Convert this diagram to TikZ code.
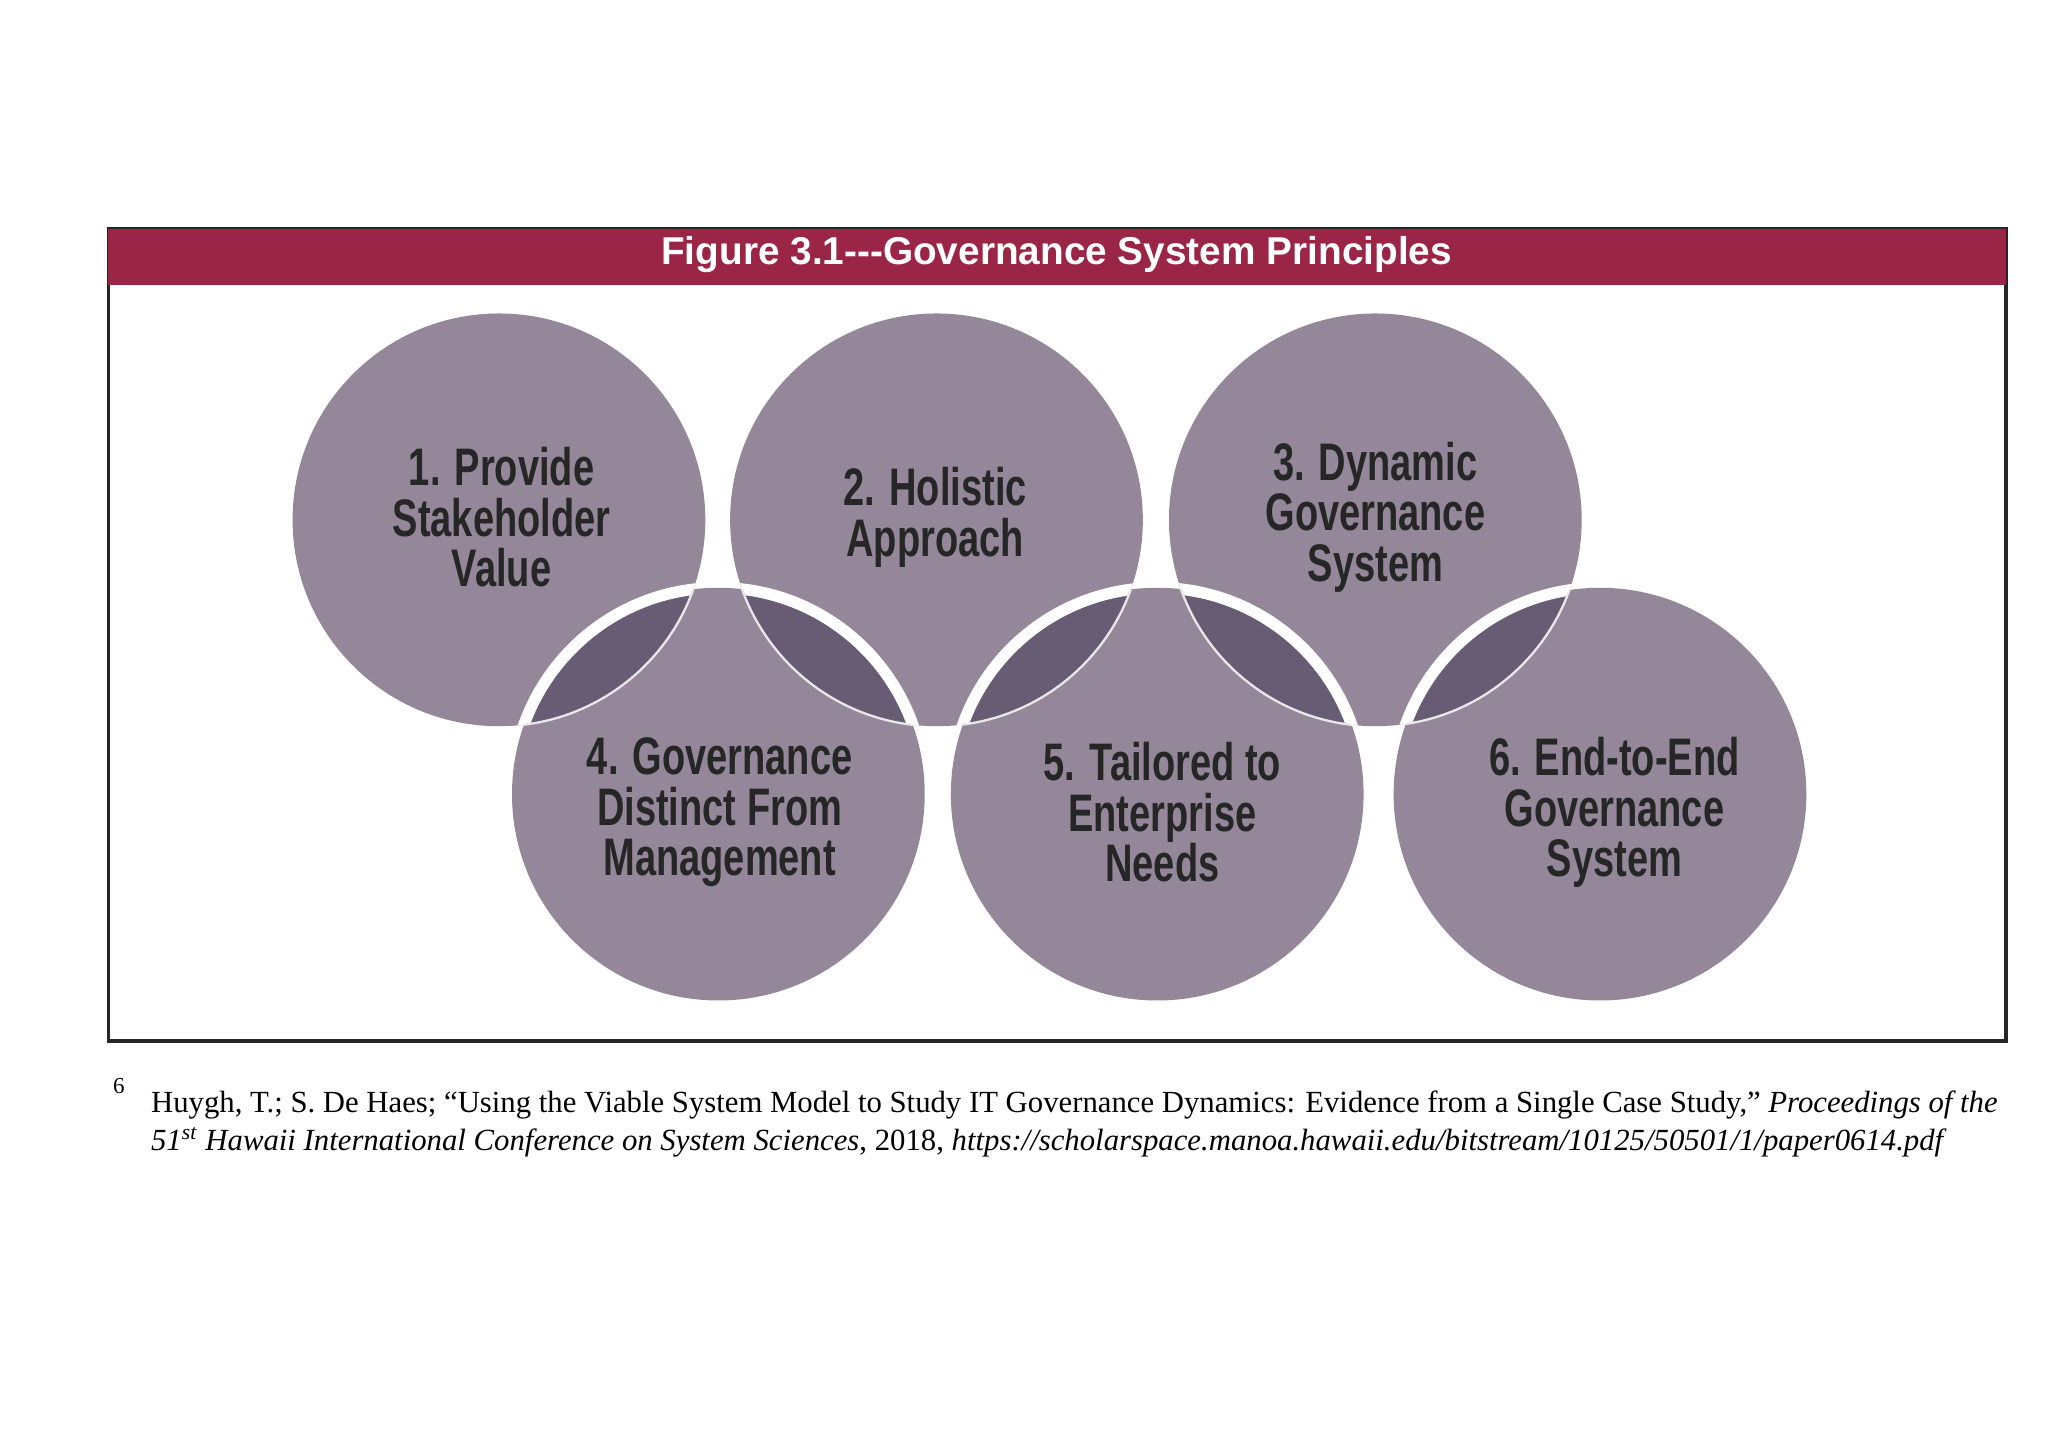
\documentclass[tikz,border=0pt]{standalone}
\usepackage{fontspec}
\setmainfont{Liberation Serif}
\newfontfamily\condf[FakeStretch=0.72]{Liberation Sans}
\newfontfamily\headf{Liberation Sans}
\usepackage{graphicx}
\definecolor{crim}{HTML}{9B2547}
\definecolor{circ}{HTML}{948799}
\definecolor{ovl}{HTML}{675C73}
\definecolor{txt}{HTML}{262626}
\begin{document}
\begin{tikzpicture}[x=0.01cm,y=-0.01cm,
  circtext/.style={align=center,text=txt,font=\condf\bfseries\fontsize{11.5}{11}\selectfont}]
\useasboundingbox (0,0) rectangle (1568,1109);
\fill[white] (0,0) rectangle (1568,1109);
\def\R{158}
% top circles
\foreach \n/\x/\y in {1/382/398,2/717/398,3/1053/398}{
  \fill[circ] (\x,\y) circle (\R);
  \coordinate (c\n) at (\x,\y);
}
% bottom circles
\foreach \n/\x/\y in {4/550/608,5/886/608,6/1225/608}{
  \fill[circ] (\x,\y) circle (\R);
  \coordinate (c\n) at (\x,\y);
}
% overlaps
\foreach \a/\b in {1/4,2/4,2/5,3/5,3/6}{
  \begin{scope}
    \clip (c\a) circle (\R);
    \fill[ovl] (c\b) circle (\R);
    \draw[white,line width=2.5pt] (c\b) circle (\R);
  \end{scope}
  \begin{scope}
    \clip (c\b) circle (\R);
    \draw[white!80!circ,line width=0.5pt] (c\a) circle (\R);
  \end{scope}
}
% frame
\draw[black!85,line width=0.8pt] (83,175) rectangle (1536,797);
\fill[crim] (83,175) rectangle (1536,218);
\node[text=white,font=\headf\bfseries] (title) at (809,195) {\resizebox{6.05cm}{!}{Figure 3.1---Governance System Principles}};
% texts
\node[circtext] (t1) at (384,396) {1. Provide\\Stakeholder\\Value};
\node[circtext] (t2) at (716,396) {2. Holistic\\Approach};
\node[circtext] (t3) at (1053,396) {3. Dynamic\\Governance\\System};
\node[circtext] (t4) at (551,622) {4. Governance\\Distinct From\\Management};
\node[circtext] (t5) at (890,622) {5. Tailored to\\Enterprise\\Needs};
\node[circtext] (t6) at (1236,622) {6. End-to-End\\Governance\\System};
% footnote
\node[anchor=base west,inner sep=0pt,font=\fontsize{6}{7}\selectfont] (fn6) at (86,846) {\textsuperscript{6}};
\node[anchor=base west,inner sep=0pt] (f1) at (115,852) {\resizebox{14.13cm}{!}{Huygh, T.; S. De Haes; ``Using the Viable System Model to Study IT Governance Dynamics: Evidence from a Single Case Study,'' \textit{Proceedings of the}}};
\node[anchor=base west,inner sep=0pt] (f2) at (115,881) {\resizebox{13.74cm}{!}{\textit{51\textsuperscript{st} Hawaii International Conference on System Sciences}, 2018, \textit{https://scholarspace.manoa.hawaii.edu/bitstream/10125/50501/1/paper0614.pdf}}};
\end{tikzpicture}
\end{document}
